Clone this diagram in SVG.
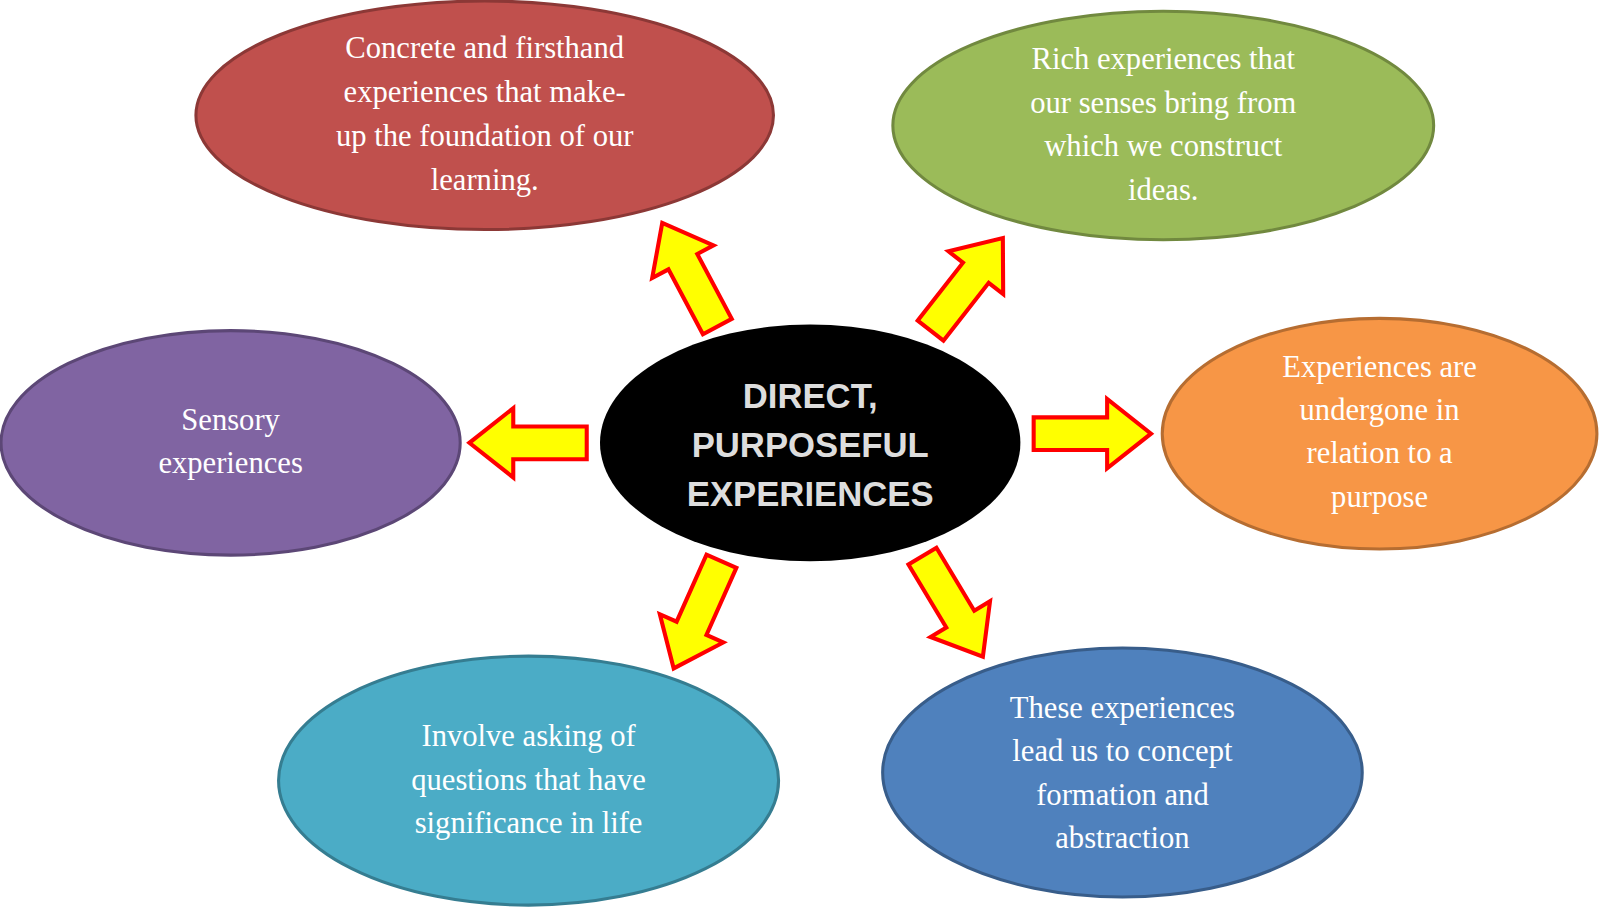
<svg xmlns="http://www.w3.org/2000/svg" width="1600" height="908" viewBox="0 0 1600 908">
<style>
.t{font-family:"Liberation Serif",serif;font-size:30px;fill:#fff;text-anchor:middle}
.c{font-family:"Liberation Sans",sans-serif;font-size:34px;font-weight:bold;fill:#ddd;text-anchor:middle}
.a{fill:#ffff00;stroke:#ff0000;stroke-width:4;stroke-linejoin:miter}
</style>
<defs><polygon id="arr" class="a" points="0,-16 72,-16 72,-34 115,0 72,34 72,16 0,16"/></defs>
<rect width="1600" height="908" fill="#fff"/>
<g transform="scale(1.0204)">
<g id="connectors">
<use href="#arr" transform="translate(575,434) rotate(180)"/>
<use href="#arr" transform="translate(1013,425)"/>
<use href="#arr" transform="translate(703,320) rotate(-118)"/>
<use href="#arr" transform="translate(912,324) rotate(-52)"/>
<use href="#arr" transform="translate(707,550) rotate(114)"/>
<use href="#arr" transform="translate(904,545) rotate(59)"/>
</g>
<g id="center"><ellipse cx="794" cy="434" rx="206" ry="116" fill="#000"/>
<text class="c" x="794" y="400">DIRECT,</text><text class="c" x="794" y="448">PURPOSEFUL</text><text class="c" x="794" y="496">EXPERIENCES</text></g>
<g id="n1"><ellipse cx="475" cy="113" rx="283" ry="112" fill="#c0504d" stroke="#8c3836" stroke-width="3"/>
<text class="t" x="475" y="57">Concrete and firsthand</text><text class="t" x="475" y="100">experiences that make-</text><text class="t" x="475" y="143">up the foundation of our</text><text class="t" x="475" y="186">learning.</text></g>
<g id="n2"><ellipse cx="1140" cy="123" rx="265" ry="112" fill="#9bbb59" stroke="#71893f" stroke-width="3"/>
<text class="t" x="1140" y="68">Rich experiences that</text><text class="t" x="1140" y="111">our senses bring from</text><text class="t" x="1140" y="153">which we construct</text><text class="t" x="1140" y="196">ideas.</text></g>
<g id="n3"><ellipse cx="226" cy="434" rx="225" ry="110" fill="#8064a2" stroke="#5c4776" stroke-width="3"/>
<text class="t" x="226" y="421">Sensory</text><text class="t" x="226" y="464">experiences</text></g>
<g id="n4"><ellipse cx="1352" cy="425" rx="213" ry="113" fill="#f79646" stroke="#b66d31" stroke-width="3"/>
<text class="t" x="1352" y="369">Experiences are</text><text class="t" x="1352" y="412">undergone in</text><text class="t" x="1352" y="454">relation to a</text><text class="t" x="1352" y="497">purpose</text></g>
<g id="n5"><ellipse cx="518" cy="765" rx="245" ry="122" fill="#4bacc6" stroke="#357d91" stroke-width="3"/>
<text class="t" x="518" y="731">Involve asking of</text><text class="t" x="518" y="774">questions that have</text><text class="t" x="518" y="816">significance in life</text></g>
<g id="n6"><ellipse cx="1100" cy="757" rx="235" ry="122" fill="#4f81bd" stroke="#385d8a" stroke-width="3"/>
<text class="t" x="1100" y="704">These experiences</text><text class="t" x="1100" y="746">lead us to concept</text><text class="t" x="1100" y="789">formation and</text><text class="t" x="1100" y="831">abstraction</text></g>
</g>
</svg>
